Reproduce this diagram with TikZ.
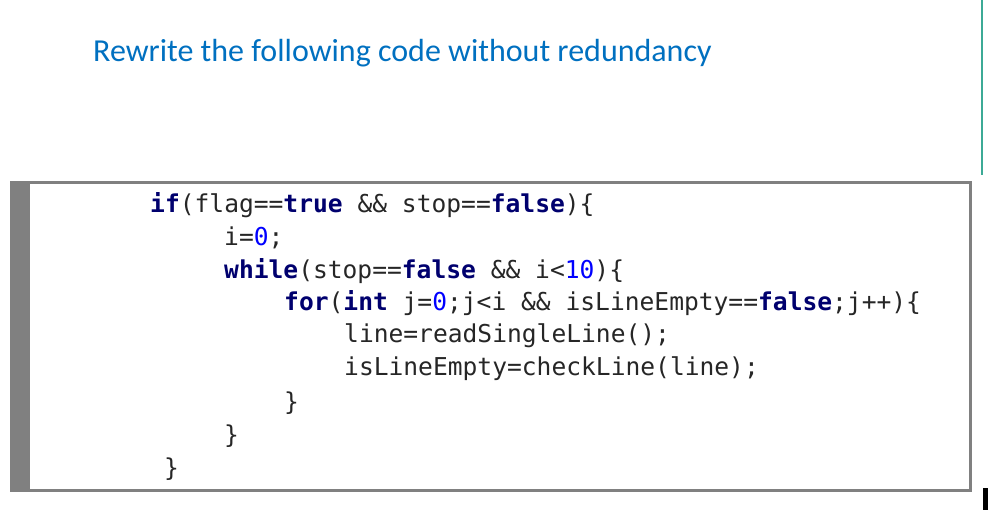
\documentclass[tikz,border=0pt]{standalone}
\usepackage{fontspec}
\setmainfont{Carlito}
\newfontfamily\codefont{DejaVu Sans Mono}
\definecolor{titleblue}{RGB}{0,112,192}
\definecolor{kw}{RGB}{0,0,110}
\definecolor{num}{RGB}{0,0,255}
\definecolor{frame}{RGB}{128,128,128}
\definecolor{teal}{RGB}{60,170,150}
\newcommand{\kwd}[1]{\textcolor{kw}{\bfseries #1}}
\newcommand{\nm}[1]{\textcolor{num}{#1}}
\begin{document}
\begin{tikzpicture}[x=1pt,y=-1pt,
  codeline/.style={anchor=west,inner sep=0pt,font=\codefont\fontsize{24.6}{28}\selectfont,text=black!85}]
\useasboundingbox (0,0) rectangle (988,510);
\node[anchor=west,inner sep=0pt,text=titleblue,font=\fontsize{32}{38}\selectfont] (title) at (93,53) {Rewrite the following code without redundancy};
\draw[teal,line width=2pt] (982,0) -- (982,175);
\fill[black] (983,488) rectangle (988,510);
\fill[frame] (10,181) rectangle (30,492);
\draw[frame,line width=3pt] (11.5,182.5) rectangle (970.5,490.5);
\node[codeline] (l1) at (150,205) {\kwd{if}(flag==\kwd{true} \&\& stop==\kwd{false})\{};
\node[codeline] (l2) at (224,238) {i=\nm{0};};
\node[codeline] (l3) at (224,271) {\kwd{while}(stop==\kwd{false} \&\& i<\nm{10})\{};
\node[codeline] (l4) at (284,303) {\kwd{for}(\kwd{int} j=\nm{0};j<i \&\& isLineEmpty==\kwd{false};j++)\{};
\node[codeline] (l5) at (344,336) {line=readSingleLine();};
\node[codeline] (l6) at (344,369) {isLineEmpty=checkLine(line);};
\node[codeline] (l7) at (284,403) {\}};
\node[codeline] (l8) at (224,436) {\}};
\node[codeline] (l9) at (164,469) {\}};
\end{tikzpicture}
\end{document}
